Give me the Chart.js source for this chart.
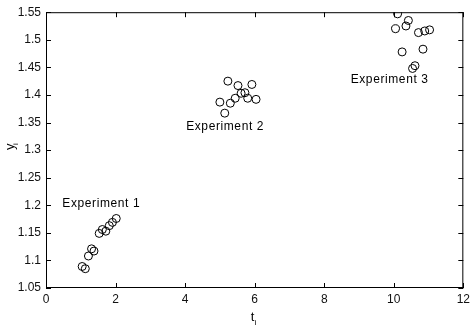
<!DOCTYPE html>
<html>
<head>
<meta charset="utf-8">
<script src="https://cdn.jsdelivr.net/npm/chart.js@4/dist/chart.umd.min.js"></script>
<style>
  html, body { margin: 0; padding: 0; background: #fff; }
  #wrap { width: 474px; height: 326px; }
</style>
</head>
<body>
<div id="wrap"><canvas id="chart" width="474" height="326"></canvas></div>
<script>
// datos
const exp1T = [1.04, 1.13, 1.22, 1.31, 1.38, 1.53, 1.62, 1.72, 1.82, 1.91, 2.02];
const exp1Y = [1.089, 1.085, 1.108, 1.121, 1.117, 1.149, 1.156, 1.153, 1.163, 1.169, 1.176];

const exp2T = [5.23, 5.52, 5.92, 5.00, 5.30, 5.44, 5.61, 5.72, 5.80, 6.04, 5.14];
const exp2Y = [1.425, 1.417, 1.419, 1.387, 1.385, 1.394, 1.403, 1.404, 1.394, 1.392, 1.367];

const exp3T = [10.11, 10.42, 10.05, 10.35, 10.71, 10.89, 11.03, 10.24, 10.84, 10.54, 10.61];
const exp3Y = [1.547, 1.535, 1.520, 1.525, 1.513, 1.516, 1.518, 1.478, 1.483, 1.448, 1.453];

const xTicks = [0, 2, 4, 6, 8, 10, 12];
const yTicks = [1.05, 1.1, 1.15, 1.2, 1.25, 1.3, 1.35, 1.4, 1.45, 1.5, 1.55];

// etiquetas de cada experimento: texto y posicion en unidades de datos
const etiquetas = [
  { texto: "Experiment 1", t: 1.59, y: 1.202 },
  { texto: "Experiment 2", t: 5.15, y: 1.343 },
  { texto: "Experiment 3", t: 9.88, y: 1.428 }
];

const FUENTE = "'Liberation Sans', Arial, Helvetica, sans-serif";

function puntos(ts, ys) {
  return ts.map((t, i) => ({ x: t, y: ys[i] }));
}

function serie(ts, ys) {
  return {
    data: puntos(ts, ys),
    showLine: false,
    pointStyle: "circle",
    pointRadius: 4,
    pointHoverRadius: 4,
    pointBorderWidth: 1,
    pointBorderColor: "#000",
    pointBackgroundColor: "rgba(0,0,0,0)"
  };
}

// marco, ticks hacia adentro, etiquetas y titulos de ejes
const marcoPlugin = {
  id: "marco",
  afterDraw(chart) {
    const { ctx, chartArea: a, scales } = chart;
    const sx = scales.x, sy = scales.y;
    ctx.save();
    ctx.strokeStyle = "#000";
    ctx.lineWidth = 1;
    ctx.strokeRect(a.left + 0.5, a.top + 0.5, a.right - a.left - 1, a.bottom - a.top - 1);

    const largo = 5;
    ctx.beginPath();
    xTicks.forEach(v => {
      const px = Math.round(sx.getPixelForValue(v)) + 0.5;
      ctx.moveTo(px, a.bottom); ctx.lineTo(px, a.bottom - largo);
      ctx.moveTo(px, a.top); ctx.lineTo(px, a.top + largo);
    });
    yTicks.forEach(v => {
      const py = Math.round(sy.getPixelForValue(v)) + 0.5;
      ctx.moveTo(a.left, py); ctx.lineTo(a.left + largo, py);
      ctx.moveTo(a.right, py); ctx.lineTo(a.right - largo, py);
    });
    ctx.stroke();

    ctx.fillStyle = "#000";
    ctx.font = "12px " + FUENTE;
    ctx.letterSpacing = "0.6px";
    ctx.textAlign = "center";
    ctx.textBaseline = "middle";
    etiquetas.forEach(e => {
      ctx.fillText(e.texto, sx.getPixelForValue(e.t), sy.getPixelForValue(e.y));
    });
    ctx.letterSpacing = "0px";

    // titulo eje x: t con subindice i
    const cx = (a.left + a.right) / 2;
    ctx.textAlign = "left";
    ctx.textBaseline = "alphabetic";
    ctx.font = "13px " + FUENTE;
    ctx.fillText("t", cx - 4, 321);
    ctx.font = "8px " + FUENTE;
    ctx.fillText("i", cx + 0, 325);

    // titulo eje y rotado
    const cy = (a.top + a.bottom) / 2;
    ctx.translate(14, cy);
    ctx.rotate(-Math.PI / 2);
    ctx.font = "13px " + FUENTE;
    ctx.fillText("y", 0, 0);
    ctx.font = "8px " + FUENTE;
    ctx.fillText("i", 5, 4);
    ctx.restore();
  }
};

new Chart(document.getElementById("chart"), {
  type: "scatter",
  data: {
    datasets: [serie(exp1T, exp1Y), serie(exp2T, exp2Y), serie(exp3T, exp3Y)]
  },
  options: {
    responsive: false,
    animation: false,
    layout: { autoPadding: false, padding: { top: 5, right: 6, left: 0, bottom: 0 } },
    plugins: { legend: { display: false }, tooltip: { enabled: false } },
    scales: {
      x: {
        type: "linear",
        min: 0,
        max: 12,
        afterFit: s => { s.height = 38; },
        afterBuildTicks: s => { s.ticks = xTicks.map(v => ({ value: v })); },
        grid: { display: false, drawTicks: false },
        border: { display: false },
        ticks: {
          padding: 4,
          color: "#111",
          font: { family: FUENTE, size: 12 },
          maxRotation: 0,
          callback: v => String(v)
        }
      },
      y: {
        type: "linear",
        min: 1.05,
        max: 1.55,
        afterFit: s => { s.width = 46; },
        afterBuildTicks: s => { s.ticks = yTicks.map(v => ({ value: v })); },
        grid: { display: false, drawTicks: false },
        border: { display: false },
        ticks: {
          padding: 5,
          color: "#111",
          font: { family: FUENTE, size: 12 },
          callback: v => String(Number(v.toFixed(2)))
        }
      }
    }
  },
  plugins: [marcoPlugin]
});
</script>
</body>
</html>
